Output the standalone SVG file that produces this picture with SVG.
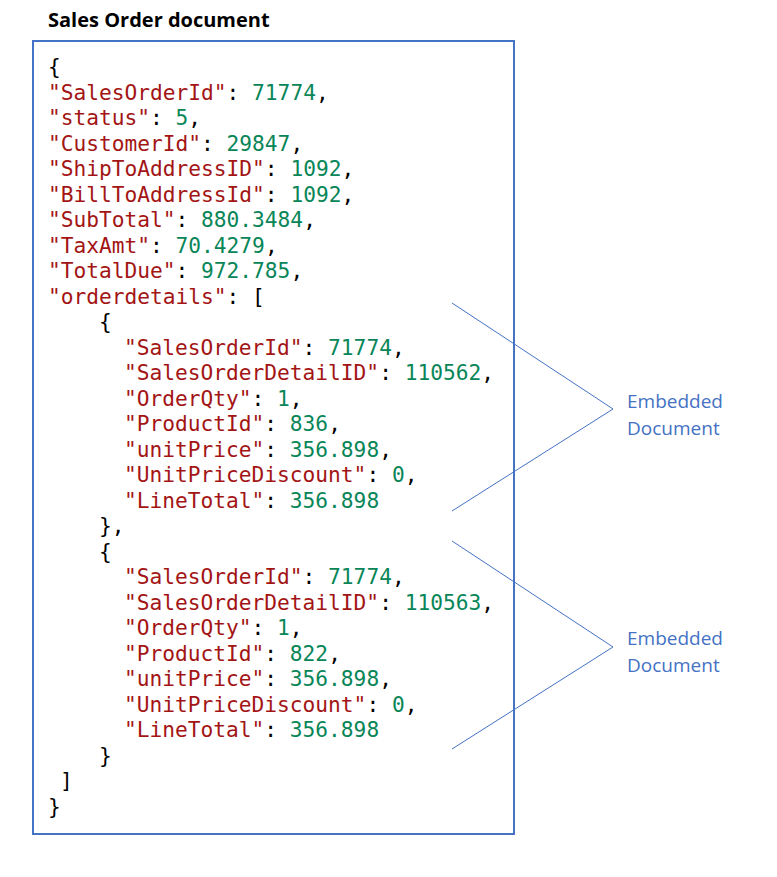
<svg xmlns="http://www.w3.org/2000/svg" width="777" height="877" viewBox="0 0 777 877">
<style>
.c{font-family:"DejaVu Sans Mono","Liberation Mono",monospace;font-size:21.2px;fill:#000}
.k{fill:#A31515}.n{fill:#098658}
.lbl{font-family:"Open Sans","Liberation Sans",sans-serif;font-size:19px;fill:#4472C4}
.ln{stroke:#4472C4;stroke-width:1;fill:none}
</style>
<rect width="777" height="877" fill="#fff"/>
<g id="title"><text x="48" y="27" font-family="Open Sans,Liberation Sans,sans-serif" font-weight="bold" font-size="20" fill="#000">Sales Order document</text></g>
<g id="document">
<rect x="33" y="41" width="481" height="793" fill="none" stroke="#4472C4" stroke-width="2"/>
<g class="c">
<text x="48" y="74">{</text>
<text x="48" y="99.5"><tspan class="k">"SalesOrderId"</tspan>: <tspan class="n">71774</tspan>,</text>
<text x="48" y="125"><tspan class="k">"status"</tspan>: <tspan class="n">5</tspan>,</text>
<text x="48" y="150.5"><tspan class="k">"CustomerId"</tspan>: <tspan class="n">29847</tspan>,</text>
<text x="48" y="176"><tspan class="k">"ShipToAddressID"</tspan>: <tspan class="n">1092</tspan>,</text>
<text x="48" y="201.5"><tspan class="k">"BillToAddressId"</tspan>: <tspan class="n">1092</tspan>,</text>
<text x="48" y="227"><tspan class="k">"SubTotal"</tspan>: <tspan class="n">880.3484</tspan>,</text>
<text x="48" y="252.5"><tspan class="k">"TaxAmt"</tspan>: <tspan class="n">70.4279</tspan>,</text>
<text x="48" y="278"><tspan class="k">"TotalDue"</tspan>: <tspan class="n">972.785</tspan>,</text>
<text x="48" y="303.5"><tspan class="k">"orderdetails"</tspan>: [</text>
<text x="99" y="329">{</text>
<text x="124" y="354.5"><tspan class="k">"SalesOrderId"</tspan>: <tspan class="n">71774</tspan>,</text>
<text x="124" y="380"><tspan class="k">"SalesOrderDetailID"</tspan>: <tspan class="n">110562</tspan>,</text>
<text x="124" y="405.5"><tspan class="k">"OrderQty"</tspan>: <tspan class="n">1</tspan>,</text>
<text x="124" y="431"><tspan class="k">"ProductId"</tspan>: <tspan class="n">836</tspan>,</text>
<text x="124" y="456.5"><tspan class="k">"unitPrice"</tspan>: <tspan class="n">356.898</tspan>,</text>
<text x="124" y="482"><tspan class="k">"UnitPriceDiscount"</tspan>: <tspan class="n">0</tspan>,</text>
<text x="124" y="507.5"><tspan class="k">"LineTotal"</tspan>: <tspan class="n">356.898</tspan></text>
<text x="99" y="533">},</text>
<text x="99" y="558.5">{</text>
<text x="124" y="584"><tspan class="k">"SalesOrderId"</tspan>: <tspan class="n">71774</tspan>,</text>
<text x="124" y="609.5"><tspan class="k">"SalesOrderDetailID"</tspan>: <tspan class="n">110563</tspan>,</text>
<text x="124" y="635"><tspan class="k">"OrderQty"</tspan>: <tspan class="n">1</tspan>,</text>
<text x="124" y="660.5"><tspan class="k">"ProductId"</tspan>: <tspan class="n">822</tspan>,</text>
<text x="124" y="686"><tspan class="k">"unitPrice"</tspan>: <tspan class="n">356.898</tspan>,</text>
<text x="124" y="711.5"><tspan class="k">"UnitPriceDiscount"</tspan>: <tspan class="n">0</tspan>,</text>
<text x="124" y="737"><tspan class="k">"LineTotal"</tspan>: <tspan class="n">356.898</tspan></text>
<text x="99" y="762.5">}</text>
<text x="60" y="788">]</text>
<text x="48" y="813.5">}</text>
</g>
</g>
<g id="connectors">
<polyline class="ln" points="452,303 613,409 452,511"/>
<polyline class="ln" points="452,541 613,647 452,749"/>
</g>
<g id="embedded1"><text class="lbl" x="627" y="408">Embedded</text><text class="lbl" x="627" y="435">Document</text></g>
<g id="embedded2"><text class="lbl" x="627" y="645">Embedded</text><text class="lbl" x="627" y="672">Document</text></g>
</svg>
